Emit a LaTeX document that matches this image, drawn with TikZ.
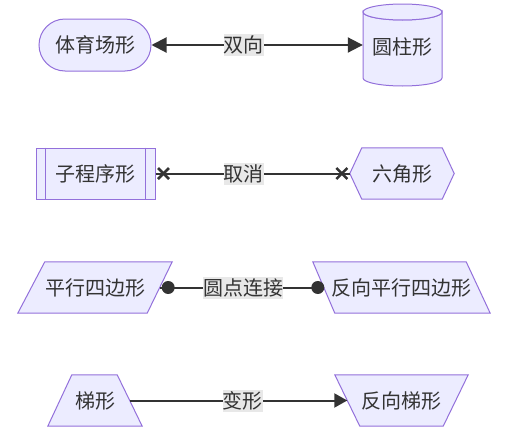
\documentclass[tikz,border=0pt]{standalone}
\usepackage{fontspec}
\setmainfont{Noto Sans CJK SC}
\usetikzlibrary{arrows.meta,calc}
\definecolor{nodefill}{HTML}{ECECFF}
\definecolor{nodeline}{HTML}{9370DB}
\definecolor{txt}{HTML}{333333}
\definecolor{edgec}{HTML}{333333}
\definecolor{lblbg}{HTML}{E8E8E8}
\begin{document}
\begin{tikzpicture}[x=1pt,y=-1pt,
  box/.style={inner sep=0pt, text=txt, font=\fontsize{20}{24}\selectfont},
  shapeline/.style={draw=nodeline, fill=nodefill, line width=1pt},
  conn/.style={draw=edgec, line width=2pt},
  lbl/.style={fill=lblbg, text=txt, inner sep=0pt, minimum height=22pt, font=\fontsize{20}{24}\selectfont},
  xmark/.style={draw=edgec, line width=2.5pt},
  dot/.style={fill=edgec}
]
\useasboundingbox (0,0) rectangle (514,442);

% ---- row 1 ----
\node[box, shapeline, rounded corners=26pt, minimum width=112pt, minimum height=52pt] (stad) at (95,45) {体育场形};
\node[box, minimum width=79pt, minimum height=82pt] (cyl) at (402.5,45) {};
\path[shapeline] (363,12) -- (363,78) arc[start angle=180, end angle=0, x radius=39.5, y radius=8]
  -- (442,12) arc[start angle=0, end angle=180, x radius=39.5, y radius=8] -- cycle;
\path[shapeline] (402.5,12) ellipse [x radius=39.5, y radius=8];
\node[box] (cyltext) at (402.5,47) {圆柱形};
\draw[conn, {Triangle[length=15pt,width=15pt]}-{Triangle[length=15pt,width=15pt]}] (stad.east) -- node[lbl, pos=0.436] (l1) {双向} (cyl.west);

% ---- row 2 ----
\node[box, shapeline, minimum width=119pt, minimum height=51pt] (sub) at (95.5,173.5) {子程序形};
\draw[draw=nodeline, line width=1pt] ($(sub.north west)+(10,0)$) -- ($(sub.south west)+(10,0)$);
\draw[draw=nodeline, line width=1pt] ($(sub.north east)+(-10,0)$) -- ($(sub.south east)+(-10,0)$);
\node[box, minimum width=104pt, minimum height=51pt] (hex) at (402,173.5) {};
\path[shapeline] (hex.west) -- ($(hex.north west)+(12,0)$) -- ($(hex.north east)+(-12,0)$) -- (hex.east)
  -- ($(hex.south east)+(-12,0)$) -- ($(hex.south west)+(12,0)$) -- cycle;
\node[box] (hextext) at (hex.center) {六角形};
\draw[conn] (sub.east) -- node[lbl, pos=0.454] (l2) {取消} (hex.west);
\coordinate (x1) at ($(sub.east)+(8,0)$);
\coordinate (x2) at ($(hex.west)+(-8,0)$);
\foreach \c in {x1,x2}{
  \draw[xmark] ($(\c)+(-5.5,-5.5)$) -- ($(\c)+(5.5,5.5)$);
  \draw[xmark] ($(\c)+(-5.5,5.5)$) -- ($(\c)+(5.5,-5.5)$);
}

% ---- row 3 ----
\node[box, minimum width=154pt, minimum height=51pt] (par) at (95,287.5) {};
\path[shapeline] (par.south west) -- ($(par.north west)+(27,0)$) -- (par.north east) -- ($(par.south east)+(-25,0)$) -- cycle;
\node[box] (partext) at (par.center) {平行四边形};
\node[box, minimum width=177pt, minimum height=51pt] (rpar) at (401.5,287.5) {};
\path[shapeline] (rpar.north west) -- ($(rpar.north east)+(-24,0)$) -- (rpar.south east) -- ($(rpar.south west)+(22,0)$) -- cycle;
\node[box] (rpartext) at (rpar.center) {反向平行四边形};
\coordinate (pe) at ($(par.east)+(-12.5,0)$);
\coordinate (rw) at ($(rpar.west)+(11,0)$);
\draw[conn] (pe) -- node[lbl, pos=0.508] (l3) {圆点连接} (rw);
\fill[dot] ($(pe)+(8.5,0)$) circle (6.5pt);
\fill[dot] ($(rw)+(-6,0)$) circle (6.5pt);

% ---- row 4 ----
\node[box, minimum width=94pt, minimum height=51pt] (trap) at (95,400.5) {};
\path[shapeline] (trap.south west) -- ($(trap.north west)+(24,0)$) -- ($(trap.north east)+(-25,0)$) -- (trap.south east) -- cycle;
\node[box] (traptext) at (trap.center) {梯形};
\node[box, minimum width=133pt, minimum height=51pt] (rtrap) at (401.5,400.5) {};
\path[shapeline] (rtrap.north west) -- (rtrap.north east) -- ($(rtrap.south east)+(-25,0)$) -- ($(rtrap.south west)+(25,0)$) -- cycle;
\node[box] (rtraptext) at (rtrap.center) {反向梯形};
\coordinate (te) at ($(trap.east)+(-12.5,0)$);
\coordinate (rtw) at ($(rtrap.west)+(12.5,0)$);
\draw[conn, -{Triangle[length=13pt,width=14pt]}] (te) -- node[lbl, pos=0.52] (l4) {变形} (rtw);
\end{tikzpicture}
\end{document}
